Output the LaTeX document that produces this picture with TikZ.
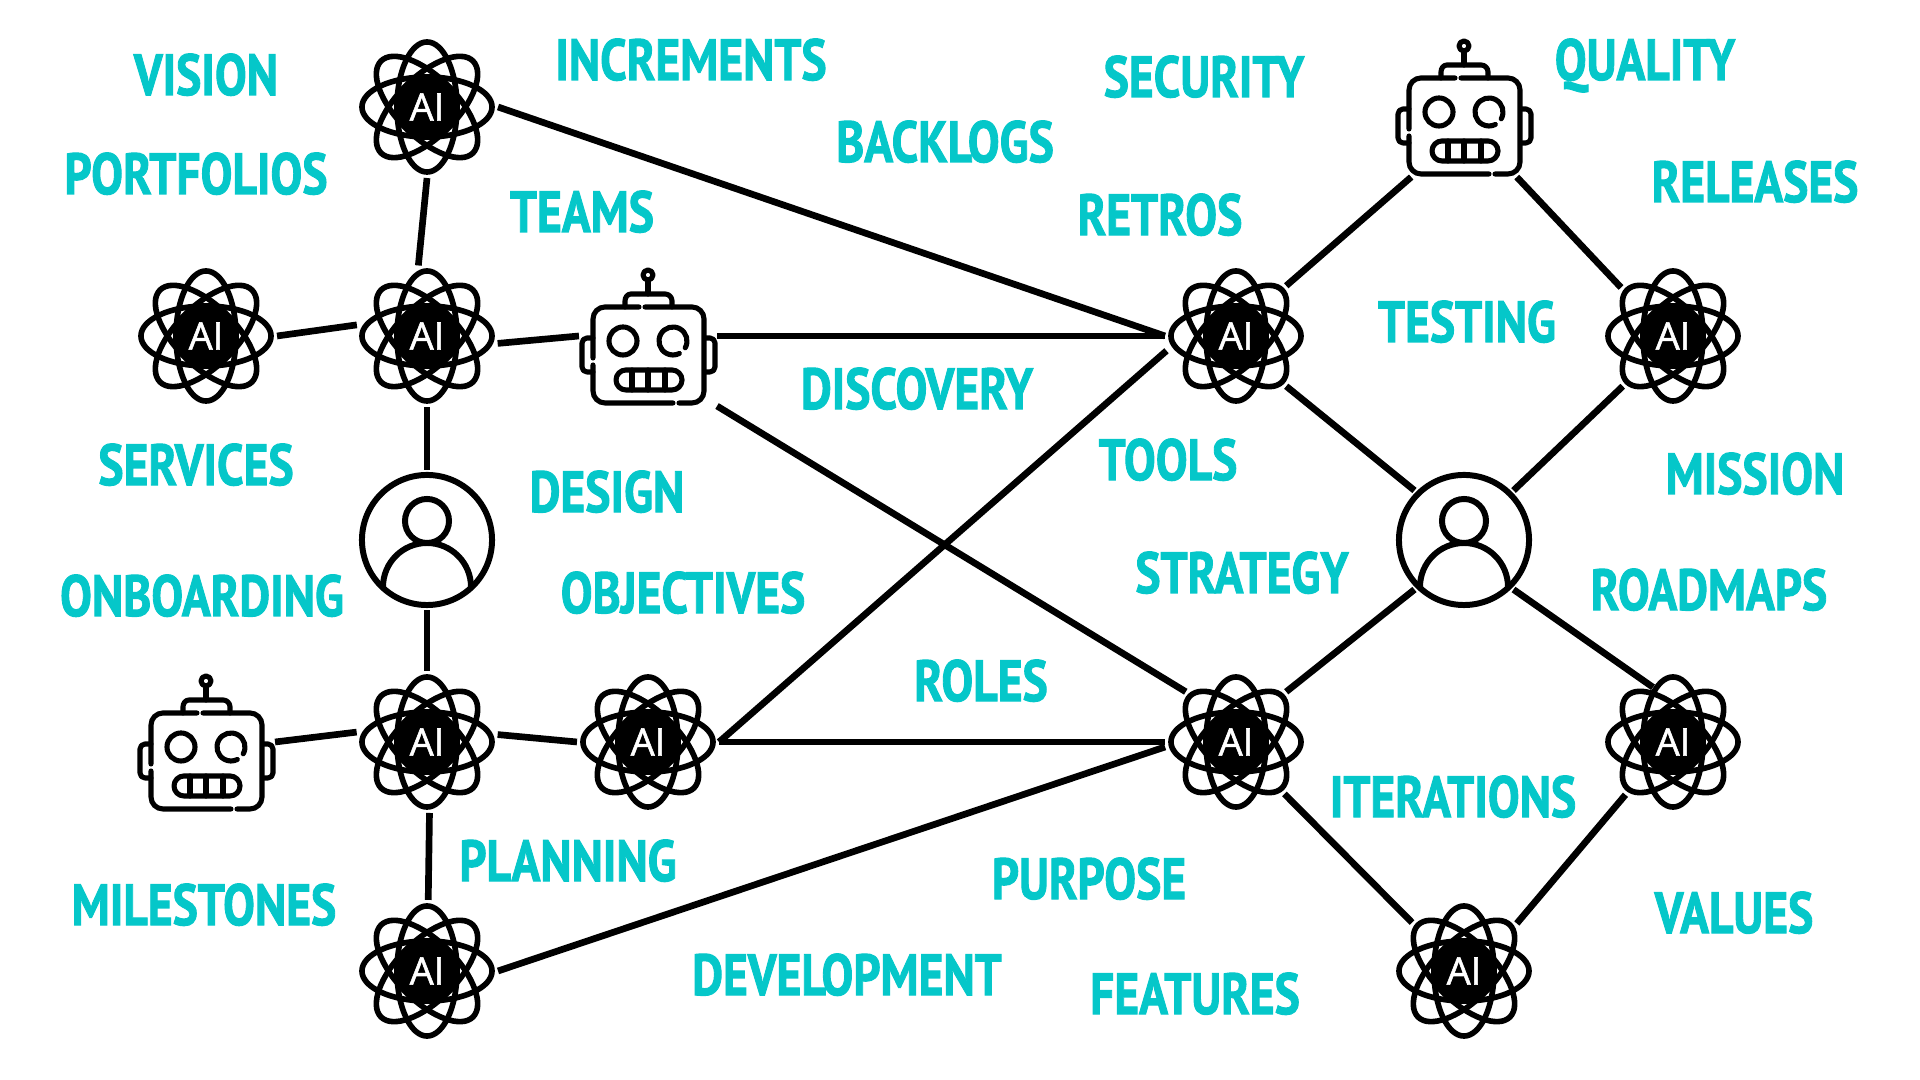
\documentclass[tikz,border=0pt]{standalone}
\usepackage{fontspec}
\setmainfont{PT Sans}[BoldFeatures={FakeBold=1.8}]
\newfontfamily\atomfont{Open Sans}[FakeBold=1.4]
\definecolor{labelteal}{HTML}{05C7C9}
\tikzset{
	hub/.style={circle,inner sep=0pt,outer sep=0pt,minimum size=1.42cm},
	botbox/.style={rectangle,inner sep=0pt,outer sep=0pt,minimum width=1.38cm,minimum height=1.40cm},
	headhub/.style={circle,inner sep=0pt,outer sep=0pt,minimum size=1.40cm},
	link/.style={line width=1.9pt},
	word/.style={text=labelteal,font=\fontsize{16.5}{20}\selectfont\bfseries,inner sep=0pt,text height=0.40cm,text depth=0pt,xscale=0.82,transform shape},
	pics/atom/.style={code={
		\foreach \ang in {0,45,90,135}
			\draw[line width=1.6pt,rotate=\ang] (0,0) ellipse [x radius=0.65cm,y radius=0.30cm];
		\fill (0,0) circle [radius=0.32cm];
		\node[text=white,font=\atomfont\fontsize{10.8}{12}\selectfont,inner sep=0pt] at (0,0) {AI};
	}},
	pics/robot/.style={code={
		\begin{scope}[line width=1.45pt,line cap=round,line join=round]
		\draw (-9,-29) -- (-43,-29) to[out=180,in=90] (-55,-17) -- (-55,22);
		\draw (-55,29) -- (-55,55) to[out=-90,in=180] (-43,67) -- (25,67);
		\draw (31,67) -- (44,67) to[out=0,in=-90] (56,55) -- (56,-17) to[out=90,in=0] (44,-29) -- (-3,-29);
		\draw (0,-61) circle [radius=0.05cm];
		\draw (0,-56) -- (0,-42);
		\draw (-23,-29) -- (-23,-35) to[out=90,in=180] (-17,-42) -- (17,-42) to[out=0,in=90] (24,-35) -- (24,-29);
		\draw (-55,2) -- (-61,2) to[out=180,in=90] (-66,7) -- (-66,31) to[out=-90,in=180] (-61,36) -- (-55,36);
		\draw (57,2) -- (62,2) to[out=0,in=90] (67,7) -- (67,31) to[out=-90,in=0] (62,36) -- (57,36);
		\draw (-25,5) circle [radius=0.14cm];
		\begin{scope}[shift={(25,5)},y=0.01cm]
		\draw (-29:0.14cm) arc [start angle=-29,end angle=297,radius=0.14cm];
		\end{scope}
		\draw (-22,34) -- (24,34) to[out=0,in=90] (34,44) to[out=-90,in=0] (24,54) -- (-22,54) to[out=180,in=-90] (-32,44) to[out=90,in=180] (-22,34);
		\foreach \bx in {-16,0,17}
			\draw (\bx,34) -- (\bx,54);
		\end{scope}
	}},
	pics/head/.style={code={
		\begin{scope}[line width=1.7pt]
		\draw (0,0) circle [radius=0.65cm];
		\draw (0,-19) circle [radius=0.22cm];
		\draw (-44,47) arc [start angle=180,end angle=360,radius=44];
		\end{scope}
	}}
}
\begin{document}
\begin{tikzpicture}[x=0.01cm,y=-0.01cm]
	\useasboundingbox (0,0) rectangle (1920,1080);

	\foreach \nm/\px/\py in {a1/427/107,a2/206/336,a3/427/336,a4/427/742,a5/648/742,a6/427/971,
		a7/1236/336,a8/1673/336,a9/1236/742,a10/1673/742,a11/1464/971}{
		\node[hub] (\nm) at (\px,\py) {};
		\pic at (\nm) {atom};
	}
	\foreach \nm/\px/\py in {r1/648/336,r2/206/742,r3/1464/107}{
		\node[botbox] (\nm) at (\px,\py) {};
		\pic at (\nm) {robot};
	}
	\foreach \nm/\px/\py in {p1/427/540,p2/1464/540}{
		\node[headhub] (\nm) at (\px,\py) {};
		\pic at (\nm) {head};
	}

	\draw[link] (a1.270) -- (a3.97);
	\draw[link] (a2.0) -- (a3.171);
	\draw[link] (a3.-6) -- (r1.180);
	\draw[link] (r1.0) -- (a7.180);
	\draw[link] (a1.0) -- (a7.180);
	\draw[link] (a3.270) -- (p1.90);
	\draw[link] (p1.270) -- (a4.90);
	\draw[link] (r2.0) -- (a4.172);
	\draw[link] (a4.6) -- (a5.180);
	\draw[link] (a4.-88) -- (a6.89);
	\draw[link] (a5.0) -- (a9.180);
	\draw[link] (a5.0) -- (a7.192);
	\draw[link] (r1.south east) -- (a9.135);
	\draw[link] (a6.0) -- (a9.184);
	\draw[link] (a7.45) -- (r3.-127);
	\draw[link] (r3.-53) -- (a8.137);
	\draw[link] (a7.-45) -- (p2.135);
	\draw[link] (a8.225) -- (p2.45);
	\draw[link] (p2.225) -- (a9.45);
	\draw[link,shorten >=-0.15cm] (p2.-45) -- (a10.117);
	\draw[link] (a9.-47) -- (a11.137);
	\draw[link] (a10.228) -- (a11.42);

	\foreach \nm/\px/\py/\txt in {l1/206/75/VISION,l2/691/60/INCREMENTS,l3/1204/77/SECURITY,l4/1645/60/QUALITY,
		l5/945/142/BACKLOGS,l6/196/174/PORTFOLIOS,l7/1755/182/RELEASES,l8/582/212/TEAMS,l9/1160/215/RETROS,
		l10/1467/322/TESTING,l11/917/389/DISCOVERY,l12/196/465/SERVICES,l13/1168/460/TOOLS,l14/1755/474/MISSION,
		l15/607/492/DESIGN,l16/1242/573/STRATEGY,l17/202/596/ONBOARDING,l18/683/593/OBJECTIVES,l19/1709/590/ROADMAPS,
		l20/981/681/ROLES,l21/1453/797/ITERATIONS,l22/568/861/PLANNING,l23/1089/879/PURPOSE,l24/204/905/MILESTONES,
		l25/1734/913/VALUES,l26/847/975/DEVELOPMENT,l27/1195/994/FEATURES}{
		\node[word] (\nm) at (\px,\py) {\txt};
	}
\end{tikzpicture}
\end{document}
